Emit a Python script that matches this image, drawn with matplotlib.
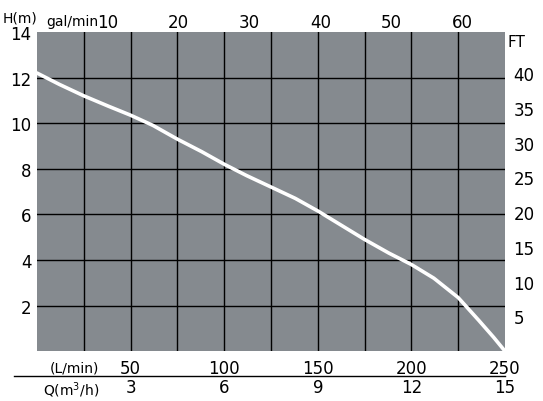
import matplotlib
matplotlib.use("Agg")
import matplotlib.pyplot as plt
import numpy as np

flow_lmin = [0, 12, 25, 38, 50, 62, 75, 88, 100, 112, 125, 138, 150, 162, 175, 188, 200, 212, 225, 236, 244, 250]
head_m = [12.2, 11.7, 11.2, 10.75, 10.35, 9.9, 9.3, 8.75, 8.2, 7.7, 7.2, 6.7, 6.15, 5.55, 4.9, 4.3, 3.8, 3.2, 2.35, 1.35, 0.6, 0.0]
h_ticks = [2, 4, 6, 8, 10, 12, 14]
ft_ticks = [5, 10, 15, 20, 25, 30, 35, 40]
gal_ticks = [10, 20, 30, 40, 50, 60]
lmin_ticks = [50, 100, 150, 200, 250]
q_ticks = [3, 6, 9, 12, 15]

fig = plt.figure(figsize=(5.43, 4.02), dpi=100)
ax = fig.add_axes([0.068, 0.124, 0.862, 0.794])
ax.set_facecolor("#858a8f")
ax.set_xlim(0, 250)
ax.set_ylim(0, 14)
for x in np.arange(25, 250, 25):
    ax.axvline(x, color="black", lw=1)
for y in np.arange(2, 14, 2):
    ax.axhline(y, color="black", lw=1)
ax.plot(flow_lmin, head_m, color="white", lw=2.6, solid_capstyle="round", solid_joinstyle="round")
for s in ax.spines.values():
    s.set_visible(False)
ax.set_xticks([])
ax.set_yticks(h_ticks)
ax.set_yticklabels([str(t) for t in h_ticks], fontsize=12)
ax.tick_params(axis="y", length=0, pad=4)

axr = ax.twinx()
axr.set_ylim(0, 14 * 3.281)
axr.set_yticks(ft_ticks)
axr.set_yticklabels([str(t) for t in ft_ticks], fontsize=12)
axr.tick_params(axis="y", length=0, pad=6)
for s in axr.spines.values():
    s.set_visible(False)

axt = ax.twiny()
axt.set_xlim(0, 250 / 3.785)
axt.set_xticks(gal_ticks)
axt.set_xticklabels([str(t) for t in gal_ticks], fontsize=12)
axt.tick_params(axis="x", length=0, pad=1)
for s in axt.spines.values():
    s.set_visible(False)

tr = ax.get_xaxis_transform()
for t in lmin_ticks:
    ax.text(t, -0.025, str(t), transform=tr, ha="center", va="top", fontsize=12)
for t in q_ticks:
    ax.text(t * 250 / 15, -0.085, str(t), transform=tr, ha="center", va="top", fontsize=12)
ax.text(20, -0.03, "(L/min)", transform=tr, ha="center", va="top", fontsize=10)
ax.text(18, -0.088, "Q(m$^3$/h)", transform=tr, ha="center", va="top", fontsize=10)
ax.plot([-0.05, 1.0], [-0.078, -0.078], transform=ax.transAxes, color="black", lw=1, clip_on=False)

fig.text(0.005, 0.955, "H(m)", fontsize=10, va="center")
fig.text(0.085, 0.945, "gal/min", fontsize=10, va="center")
fig.text(0.935, 0.895, "FT", fontsize=11, va="center")

fig.savefig("out.png", dpi=100)
